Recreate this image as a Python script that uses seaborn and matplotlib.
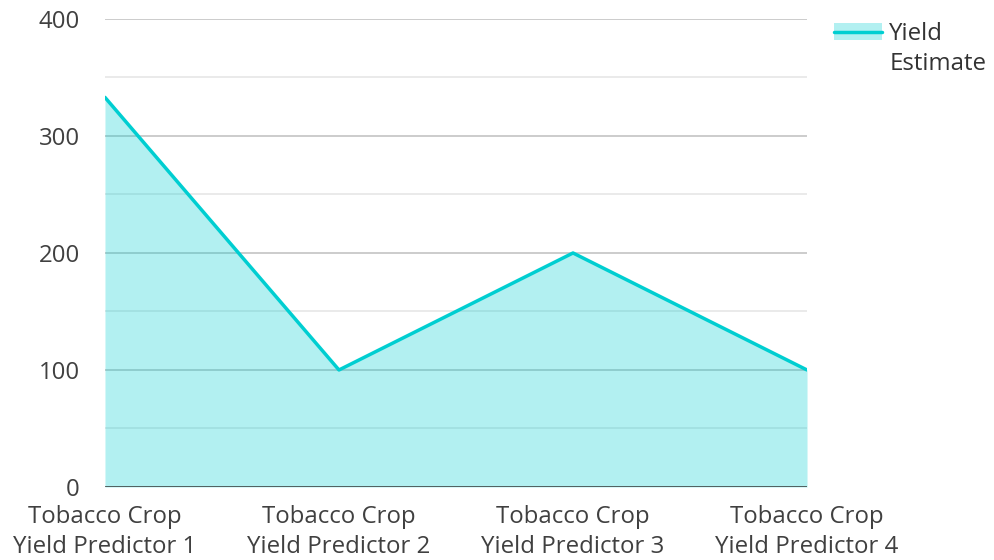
import pandas as pd
import matplotlib.pyplot as plt
import seaborn as sns
from matplotlib.lines import Line2D
from matplotlib.patches import Patch
from matplotlib.legend_handler import HandlerTuple

# Chart data
categories = ["Tobacco Crop\nYield Predictor 1", "Tobacco Crop\nYield Predictor 2",
              "Tobacco Crop\nYield Predictor 3", "Tobacco Crop\nYield Predictor 4"]
yield_values = [333, 100, 200, 100]
series_name = ["Yield", "Estimate"]

line_color = "#00CED1"

df = pd.DataFrame({"x": range(len(categories)), "y": yield_values})

sns.set_theme(style="white")
plt.rcParams['font.family'] = ['Open Sans', 'DejaVu Sans']

fig = plt.figure(figsize=(9.94, 5.6), dpi=100)
ax = fig.add_axes([0.1056, 0.1304, 0.7063, 0.8357])

# grid lines first, fill drawn on top with transparency
for v in range(50, 401, 50):
    ax.axhline(v, color="#c8c8c8" if v % 100 == 0 else "#e8e8e8", lw=1.3, zorder=0)

ax.fill_between(df["x"], df["y"], color=line_color, alpha=0.3, lw=0, zorder=1)
sns.lineplot(data=df, x="x", y="y", color=line_color, lw=2.5, ax=ax, zorder=3)
ax.axhline(0, color="#333333", lw=1.8, zorder=4)

ax.set_xlim(0, len(categories) - 1)
ax.set_ylim(0, 400)
ax.set_xticks(range(len(categories)))
ax.set_xticklabels(categories, linespacing=1.32)
ax.set_yticks([0, 100, 200, 300, 400])
ax.tick_params(axis="both", length=0, labelsize=17.3, colors="#404040")
ax.tick_params(axis="x", pad=13)
ax.tick_params(axis="y", pad=18)
ax.set_xlabel("")
ax.set_ylabel("")
sns.despine(ax=ax, left=True, bottom=True, top=True, right=True)

# legend: handle next to first line of the label, second line as plain text
h = (Patch(facecolor=line_color, alpha=0.3, lw=0), Line2D([0], [0], color=line_color, lw=2.5))
leg = fig.legend([h], [series_name[0]], handler_map={tuple: HandlerTuple(ndivide=1)},
                 loc="center left", bbox_to_anchor=(0.8265, 1 - 34 / 560), frameon=False,
                 fontsize=17.3, handlelength=2.0, handletextpad=0.3, borderpad=0)
for t in leg.get_texts():
    t.set_color("#333333")
fig.text(890 / 994, 1 - 64 / 560, series_name[1], fontsize=17.3, color="#333333",
         ha="left", va="center")

fig.savefig("out.png", dpi=100)
